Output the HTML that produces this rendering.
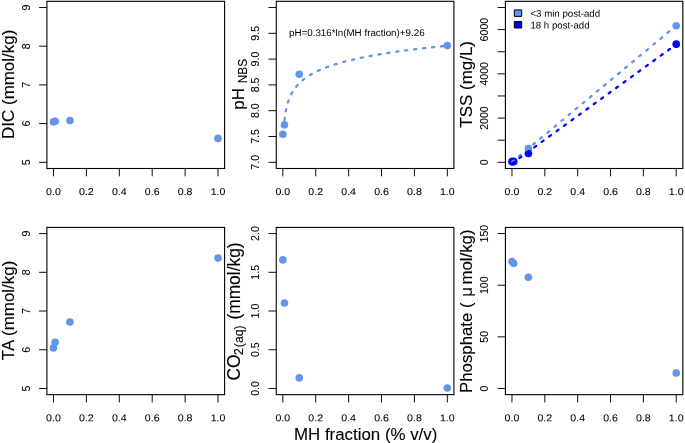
<!DOCTYPE html>
<html><head><meta charset="utf-8"><title>MH fraction plots</title>
<style>
html,body{margin:0;padding:0;background:#fff;}
svg{display:block;font-family:"Liberation Sans",sans-serif;fill:#000;}
.t{stroke:#000;stroke-width:0.08px;}
.l{stroke:#000;stroke-width:0.12px;}
</style></head>
<body>
<svg width="685" height="443" viewBox="0 0 685 443">
<rect width="685" height="443" fill="#fff"/>
<rect x="46.9" y="1.3" width="177.7" height="167.2" fill="none" stroke="#000" stroke-width="1.1"/>
<path d="M53.48 168.5v7.8M86.39 168.5v7.8M119.3 168.5v7.8M152.2 168.5v7.8M185.11 168.5v7.8M218.02 168.5v7.8M46.9 162.31h-7.8M46.9 123.6h-7.8M46.9 84.9h-7.8M46.9 46.2h-7.8M46.9 7.49h-7.8" stroke="#000" stroke-width="0.95" fill="none"/>
<text transform="translate(53.48 195.1) rotate(0.03) scale(1 0.93)" font-size="10.6" class="t" text-anchor="middle">0.0</text>
<text transform="translate(86.39 195.1) rotate(0.03) scale(1 0.93)" font-size="10.6" class="t" text-anchor="middle">0.2</text>
<text transform="translate(119.3 195.1) rotate(0.03) scale(1 0.93)" font-size="10.6" class="t" text-anchor="middle">0.4</text>
<text transform="translate(152.2 195.1) rotate(0.03) scale(1 0.93)" font-size="10.6" class="t" text-anchor="middle">0.6</text>
<text transform="translate(185.11 195.1) rotate(0.03) scale(1 0.93)" font-size="10.6" class="t" text-anchor="middle">0.8</text>
<text transform="translate(218.02 195.1) rotate(0.03) scale(1 0.93)" font-size="10.6" class="t" text-anchor="middle">1.0</text>
<text transform="translate(29.6 162.31) rotate(-90)" font-size="10.6" class="t" text-anchor="middle">5</text>
<text transform="translate(29.6 123.6) rotate(-90)" font-size="10.6" class="t" text-anchor="middle">6</text>
<text transform="translate(29.6 84.9) rotate(-90)" font-size="10.6" class="t" text-anchor="middle">7</text>
<text transform="translate(29.6 46.2) rotate(-90)" font-size="10.6" class="t" text-anchor="middle">8</text>
<text transform="translate(29.6 7.49) rotate(-90)" font-size="10.6" class="t" text-anchor="middle">9</text>
<text transform="translate(14.4 84.3) rotate(-90)" font-size="16.95" class="l" text-anchor="middle">DIC (mmol/kg)</text>
<circle cx="53.48" cy="121.86" r="3.8" fill="#6495ED"/>
<circle cx="55.13" cy="121.36" r="3.8" fill="#6495ED"/>
<circle cx="69.94" cy="120.51" r="3.8" fill="#6495ED"/>
<circle cx="218.02" cy="138.39" r="3.8" fill="#6495ED"/>
<rect x="276.25" y="1.3" width="177.65" height="167.2" fill="none" stroke="#000" stroke-width="1.1"/>
<path d="M282.83 168.5v7.8M315.73 168.5v7.8M348.63 168.5v7.8M381.52 168.5v7.8M414.42 168.5v7.8M447.32 168.5v7.8M276.25 162.31h-7.8M276.25 136.5h-7.8M276.25 110.7h-7.8M276.25 84.9h-7.8M276.25 59.1h-7.8M276.25 33.3h-7.8M276.25 7.49h-7.8" stroke="#000" stroke-width="0.95" fill="none"/>
<text transform="translate(282.83 195.1) rotate(0.03) scale(1 0.93)" font-size="10.6" class="t" text-anchor="middle">0.0</text>
<text transform="translate(315.73 195.1) rotate(0.03) scale(1 0.93)" font-size="10.6" class="t" text-anchor="middle">0.2</text>
<text transform="translate(348.63 195.1) rotate(0.03) scale(1 0.93)" font-size="10.6" class="t" text-anchor="middle">0.4</text>
<text transform="translate(381.52 195.1) rotate(0.03) scale(1 0.93)" font-size="10.6" class="t" text-anchor="middle">0.6</text>
<text transform="translate(414.42 195.1) rotate(0.03) scale(1 0.93)" font-size="10.6" class="t" text-anchor="middle">0.8</text>
<text transform="translate(447.32 195.1) rotate(0.03) scale(1 0.93)" font-size="10.6" class="t" text-anchor="middle">1.0</text>
<text transform="translate(258.95 162.31) rotate(-90)" font-size="10.6" class="t" text-anchor="middle">7.0</text>
<text transform="translate(258.95 136.5) rotate(-90)" font-size="10.6" class="t" text-anchor="middle">7.5</text>
<text transform="translate(258.95 110.7) rotate(-90)" font-size="10.6" class="t" text-anchor="middle">8.0</text>
<text transform="translate(258.95 84.9) rotate(-90)" font-size="10.6" class="t" text-anchor="middle">8.5</text>
<text transform="translate(258.95 59.1) rotate(-90)" font-size="10.6" class="t" text-anchor="middle">9.0</text>
<text transform="translate(258.95 33.3) rotate(-90)" font-size="10.6" class="t" text-anchor="middle">9.5</text>
<text transform="translate(243.75 84.3) rotate(-90)" font-size="16.95" class="l" text-anchor="middle">pH <tspan font-size="11.9" dy="3">NBS</tspan></text>
<path d="M284.47 120.78 L284.49 120.59 L284.51 120.40 L284.53 120.21 L284.55 120.03 L284.57 119.84 L284.59 119.65 L284.61 119.46 L284.63 119.28 L284.65 119.09 L284.68 118.90 L284.70 118.71 L284.72 118.52 L284.74 118.34 L284.76 118.15 L284.78 117.96 L284.81 117.77 L284.83 117.59 L284.85 117.40 L284.88 117.21 L284.90 117.02 L284.92 116.83 L284.95 116.65 L284.97 116.46 L285.00 116.27 L285.02 116.08 L285.05 115.90 L285.07 115.71 L285.10 115.52 L285.13 115.33 L285.15 115.15 L285.18 114.96 L285.21 114.77 L285.23 114.58 L285.26 114.39 L285.29 114.21 L285.32 114.02 L285.35 113.83 L285.38 113.64 L285.41 113.46 L285.44 113.27 L285.47 113.08 L285.50 112.89 L285.53 112.70 L285.56 112.52 L285.59 112.33 L285.62 112.14 L285.66 111.95 L285.69 111.77 L285.72 111.58 L285.75 111.39 L285.79 111.20 L285.82 111.01 L285.86 110.83 L285.89 110.64 L285.93 110.45 L285.96 110.26 L286.00 110.08 L286.04 109.89 L286.07 109.70 L286.11 109.51 L286.15 109.33 L286.19 109.14 L286.23 108.95 L286.27 108.76 L286.31 108.57 L286.35 108.39 L286.39 108.20 L286.43 108.01 L286.47 107.82 L286.51 107.64 L286.55 107.45 L286.60 107.26 L286.64 107.07 L286.69 106.88 L286.73 106.70 L286.78 106.51 L286.82 106.32 L286.87 106.13 L286.91 105.95 L286.96 105.76 L287.01 105.57 L287.06 105.38 L287.11 105.19 L287.16 105.01 L287.21 104.82 L287.26 104.63 L287.31 104.44 L287.36 104.26 L287.41 104.07 L287.47 103.88 L287.52 103.69 L287.57 103.51 L287.63 103.32 L287.68 103.13 L287.74 102.94 L287.80 102.75 L287.85 102.57 L287.91 102.38 L287.97 102.19 L288.03 102.00 L288.09 101.82 L288.15 101.63 L288.21 101.44 L288.28 101.25 L288.34 101.06 L288.40 100.88 L288.47 100.69 L288.53 100.50 L288.60 100.31 L288.67 100.13 L288.73 99.94 L288.80 99.75 L288.87 99.56 L288.94 99.37 L289.01 99.19 L289.08 99.00 L289.16 98.81 L289.23 98.62 L289.30 98.44 L289.38 98.25 L289.45 98.06 L289.53 97.87 L289.61 97.69 L289.69 97.50 L289.77 97.31 L289.85 97.12 L289.93 96.93 L290.01 96.75 L290.09 96.56 L290.18 96.37 L290.26 96.18 L290.35 96.00 L290.44 95.81 L290.52 95.62 L290.61 95.43 L290.70 95.24 L290.79 95.06 L290.89 94.87 L290.98 94.68 L291.07 94.49 L291.17 94.31 L291.27 94.12 L291.36 93.93 L291.46 93.74 L291.56 93.55 L291.66 93.37 L291.77 93.18 L291.87 92.99 L291.97 92.80 L292.08 92.62 L292.19 92.43 L292.30 92.24 L292.40 92.05 L292.52 91.87 L292.63 91.68 L292.74 91.49 L292.86 91.30 L292.97 91.11 L293.09 90.93 L293.21 90.74 L293.33 90.55 L293.45 90.36 L293.57 90.18 L293.70 89.99 L293.82 89.80 L293.95 89.61 L294.08 89.42 L294.21 89.24 L294.34 89.05 L294.47 88.86 L294.61 88.67 L294.75 88.49 L294.88 88.30 L295.02 88.11 L295.16 87.92 L295.31 87.73 L295.45 87.55 L295.60 87.36 L295.75 87.17 L295.90 86.98 L296.05 86.80 L296.20 86.61 L296.35 86.42 L296.51 86.23 L296.67 86.05 L296.83 85.86 L296.99 85.67 L297.16 85.48 L297.32 85.29 L297.49 85.11 L297.66 84.92 L297.83 84.73 L298.01 84.54 L298.18 84.36 L298.36 84.17 L298.54 83.98 L298.72 83.79 L298.90 83.60 L299.09 83.42 L299.28 83.23 L299.47 83.04 L299.66 82.85 L299.86 82.67 L300.05 82.48 L300.25 82.29 L300.46 82.10 L300.66 81.91 L300.87 81.73 L301.07 81.54 L301.29 81.35 L301.50 81.16 L301.72 80.98 L301.93 80.79 L302.16 80.60 L302.38 80.41 L302.61 80.22 L302.83 80.04 L303.07 79.85 L303.30 79.66 L303.54 79.47 L303.78 79.29 L304.02 79.10 L304.27 78.91 L304.51 78.72 L304.76 78.54 L305.02 78.35 L305.28 78.16 L305.54 77.97 L305.80 77.78 L306.06 77.60 L306.33 77.41 L306.61 77.22 L306.88 77.03 L307.16 76.85 L307.44 76.66 L307.73 76.47 L308.01 76.28 L308.31 76.09 L308.60 75.91 L308.90 75.72 L309.20 75.53 L309.51 75.34 L309.82 75.16 L310.13 74.97 L310.44 74.78 L310.76 74.59 L311.09 74.40 L311.41 74.22 L311.75 74.03 L312.08 73.84 L312.42 73.65 L312.76 73.47 L313.11 73.28 L313.46 73.09 L313.81 72.90 L314.17 72.72 L314.54 72.53 L314.90 72.34 L315.27 72.15 L315.65 71.96 L316.03 71.78 L316.41 71.59 L316.80 71.40 L317.20 71.21 L317.59 71.03 L318.00 70.84 L318.40 70.65 L318.82 70.46 L319.23 70.27 L319.65 70.09 L320.08 69.90 L320.51 69.71 L320.95 69.52 L321.39 69.34 L321.84 69.15 L322.29 68.96 L322.75 68.77 L323.21 68.58 L323.67 68.40 L324.15 68.21 L324.63 68.02 L325.11 67.83 L325.60 67.65 L326.10 67.46 L326.60 67.27 L327.10 67.08 L327.62 66.90 L328.13 66.71 L328.66 66.52 L329.19 66.33 L329.73 66.14 L330.27 65.96 L330.82 65.77 L331.37 65.58 L331.94 65.39 L332.51 65.21 L333.08 65.02 L333.66 64.83 L334.25 64.64 L334.85 64.45 L335.45 64.27 L336.06 64.08 L336.67 63.89 L337.30 63.70 L337.93 63.52 L338.57 63.33 L339.21 63.14 L339.86 62.95 L340.53 62.76 L341.19 62.58 L341.87 62.39 L342.55 62.20 L343.24 62.01 L343.94 61.83 L344.65 61.64 L345.37 61.45 L346.09 61.26 L346.82 61.08 L347.56 60.89 L348.31 60.70 L349.07 60.51 L349.84 60.32 L350.62 60.14 L351.40 59.95 L352.19 59.76 L353.00 59.57 L353.81 59.39 L354.63 59.20 L355.46 59.01 L356.30 58.82 L357.16 58.63 L358.02 58.45 L358.89 58.26 L359.77 58.07 L360.66 57.88 L361.56 57.70 L362.47 57.51 L363.39 57.32 L364.33 57.13 L365.27 56.94 L366.22 56.76 L367.19 56.57 L368.17 56.38 L369.16 56.19 L370.16 56.01 L371.17 55.82 L372.19 55.63 L373.22 55.44 L374.27 55.26 L375.33 55.07 L376.40 54.88 L377.48 54.69 L378.58 54.50 L379.69 54.32 L380.81 54.13 L381.95 53.94 L383.09 53.75 L384.25 53.57 L385.43 53.38 L386.62 53.19 L387.82 53.00 L389.03 52.81 L390.26 52.63 L391.51 52.44 L392.77 52.25 L394.04 52.06 L395.33 51.88 L396.63 51.69 L397.95 51.50 L399.28 51.31 L400.63 51.12 L401.99 50.94 L403.37 50.75 L404.77 50.56 L406.18 50.37 L407.61 50.19 L409.05 50.00 L410.52 49.81 L411.99 49.62 L413.49 49.44 L415.00 49.25 L416.53 49.06 L418.08 48.87 L419.65 48.68 L421.23 48.50 L422.83 48.31 L424.46 48.12 L426.10 47.93 L427.75 47.75 L429.43 47.56 L431.13 47.37 L432.85 47.18 L434.58 46.99 L436.34 46.81 L438.12 46.62 L439.92 46.43 L441.74 46.24 L443.58 46.06 L445.44 45.87 L447.32 45.68" stroke="#6495ED" stroke-dashoffset="-0.6" stroke-dasharray="2.25 6.75" stroke-linecap="round" stroke-width="2.3" fill="none"/>
<circle cx="282.83" cy="134.23" r="3.8" fill="#6495ED"/>
<circle cx="284.47" cy="124.84" r="3.8" fill="#6495ED"/>
<circle cx="299.28" cy="74.27" r="3.8" fill="#6495ED"/>
<circle cx="447.32" cy="45.58" r="3.8" fill="#6495ED"/>
<text transform="translate(289.0 36.05) rotate(0.03)" font-size="9.8">pH=0.316*ln(MH fraction)+9.26</text>
<rect x="505.4" y="1.3" width="177.4" height="167.2" fill="none" stroke="#000" stroke-width="1.1"/>
<path d="M511.97 168.5v7.8M544.82 168.5v7.8M577.67 168.5v7.8M610.53 168.5v7.8M643.38 168.5v7.8M676.23 168.5v7.8M505.4 162.31h-7.8M505.4 140.19h-7.8M505.4 118.07h-7.8M505.4 95.96h-7.8M505.4 73.84h-7.8M505.4 51.73h-7.8M505.4 29.61h-7.8M505.4 7.49h-7.8" stroke="#000" stroke-width="0.95" fill="none"/>
<text transform="translate(511.97 195.1) rotate(0.03) scale(1 0.93)" font-size="10.6" class="t" text-anchor="middle">0.0</text>
<text transform="translate(544.82 195.1) rotate(0.03) scale(1 0.93)" font-size="10.6" class="t" text-anchor="middle">0.2</text>
<text transform="translate(577.67 195.1) rotate(0.03) scale(1 0.93)" font-size="10.6" class="t" text-anchor="middle">0.4</text>
<text transform="translate(610.53 195.1) rotate(0.03) scale(1 0.93)" font-size="10.6" class="t" text-anchor="middle">0.6</text>
<text transform="translate(643.38 195.1) rotate(0.03) scale(1 0.93)" font-size="10.6" class="t" text-anchor="middle">0.8</text>
<text transform="translate(676.23 195.1) rotate(0.03) scale(1 0.93)" font-size="10.6" class="t" text-anchor="middle">1.0</text>
<text transform="translate(488.1 162.31) rotate(-90)" font-size="10.6" class="t" text-anchor="middle">0</text>
<text transform="translate(488.1 118.07) rotate(-90)" font-size="10.6" class="t" text-anchor="middle">2000</text>
<text transform="translate(488.1 73.84) rotate(-90)" font-size="10.6" class="t" text-anchor="middle">4000</text>
<text transform="translate(488.1 29.61) rotate(-90)" font-size="10.6" class="t" text-anchor="middle">6000</text>
<text transform="translate(472.4 84.3) rotate(-90)" font-size="16.95" class="l" text-anchor="middle">TSS (mg/L)</text>
<circle cx="511.97" cy="161.2" r="3.8" fill="#6495ED"/>
<circle cx="513.61" cy="160.98" r="3.8" fill="#6495ED"/>
<circle cx="528.4" cy="148.48" r="3.8" fill="#6495ED"/>
<circle cx="676.23" cy="25.69" r="3.8" fill="#6495ED"/>
<circle cx="511.97" cy="161.87" r="3.8" fill="#0000FF"/>
<circle cx="513.61" cy="161.64" r="3.8" fill="#0000FF"/>
<circle cx="528.4" cy="153.46" r="3.8" fill="#0000FF"/>
<circle cx="676.23" cy="44.16" r="3.8" fill="#0000FF"/>
<path d="M511.97 162.09L676.23 25.63" stroke="#6495ED" stroke-dasharray="2.3 6.89" stroke-linecap="round" stroke-width="2.3" fill="none"/>
<path d="M511.97 163.50L676.23 44.38" stroke="#0000FF" stroke-dasharray="2.3 6.89" stroke-linecap="round" stroke-width="2.3" fill="none"/>
<rect x="514.3" y="9.9" width="7.4" height="6.5" fill="#6495ED" stroke="#000" stroke-width="1" stroke-linejoin="round"/>
<rect x="514.3" y="21.5" width="7.4" height="6.5" fill="#0000FF" stroke="#000" stroke-width="1" stroke-linejoin="round"/>
<text transform="translate(530.4 16.8) rotate(0.03)" font-size="9.7">&lt;3 min post-add</text>
<text transform="translate(530.4 28.55) rotate(0.03)" font-size="9.7">18 h post-add</text>
<rect x="46.9" y="227.4" width="177.7" height="167.25" fill="none" stroke="#000" stroke-width="1.1"/>
<path d="M53.48 394.65v7.8M86.39 394.65v7.8M119.3 394.65v7.8M152.2 394.65v7.8M185.11 394.65v7.8M218.02 394.65v7.8M46.9 388.46h-7.8M46.9 349.74h-7.8M46.9 311.02h-7.8M46.9 272.31h-7.8M46.9 233.59h-7.8" stroke="#000" stroke-width="0.95" fill="none"/>
<text transform="translate(53.48 421.25) rotate(0.03) scale(1 0.93)" font-size="10.6" class="t" text-anchor="middle">0.0</text>
<text transform="translate(86.39 421.25) rotate(0.03) scale(1 0.93)" font-size="10.6" class="t" text-anchor="middle">0.2</text>
<text transform="translate(119.3 421.25) rotate(0.03) scale(1 0.93)" font-size="10.6" class="t" text-anchor="middle">0.4</text>
<text transform="translate(152.2 421.25) rotate(0.03) scale(1 0.93)" font-size="10.6" class="t" text-anchor="middle">0.6</text>
<text transform="translate(185.11 421.25) rotate(0.03) scale(1 0.93)" font-size="10.6" class="t" text-anchor="middle">0.8</text>
<text transform="translate(218.02 421.25) rotate(0.03) scale(1 0.93)" font-size="10.6" class="t" text-anchor="middle">1.0</text>
<text transform="translate(29.6 388.46) rotate(-90)" font-size="10.6" class="t" text-anchor="middle">5</text>
<text transform="translate(29.6 349.74) rotate(-90)" font-size="10.6" class="t" text-anchor="middle">6</text>
<text transform="translate(29.6 311.02) rotate(-90)" font-size="10.6" class="t" text-anchor="middle">7</text>
<text transform="translate(29.6 272.31) rotate(-90)" font-size="10.6" class="t" text-anchor="middle">8</text>
<text transform="translate(29.6 233.59) rotate(-90)" font-size="10.6" class="t" text-anchor="middle">9</text>
<text transform="translate(14.4 310.42) rotate(-90)" font-size="16.95" class="l" text-anchor="middle">TA (mmol/kg)</text>
<circle cx="53.48" cy="347.92" r="3.8" fill="#6495ED"/>
<circle cx="55.13" cy="342.19" r="3.8" fill="#6495ED"/>
<circle cx="69.94" cy="322.06" r="3.8" fill="#6495ED"/>
<circle cx="218.02" cy="258.06" r="3.8" fill="#6495ED"/>
<rect x="276.25" y="227.4" width="177.65" height="167.25" fill="none" stroke="#000" stroke-width="1.1"/>
<path d="M282.83 394.65v7.8M315.73 394.65v7.8M348.63 394.65v7.8M381.52 394.65v7.8M414.42 394.65v7.8M447.32 394.65v7.8M276.25 388.46h-7.8M276.25 349.74h-7.8M276.25 311.02h-7.8M276.25 272.31h-7.8M276.25 233.59h-7.8" stroke="#000" stroke-width="0.95" fill="none"/>
<text transform="translate(282.83 421.25) rotate(0.03) scale(1 0.93)" font-size="10.6" class="t" text-anchor="middle">0.0</text>
<text transform="translate(315.73 421.25) rotate(0.03) scale(1 0.93)" font-size="10.6" class="t" text-anchor="middle">0.2</text>
<text transform="translate(348.63 421.25) rotate(0.03) scale(1 0.93)" font-size="10.6" class="t" text-anchor="middle">0.4</text>
<text transform="translate(381.52 421.25) rotate(0.03) scale(1 0.93)" font-size="10.6" class="t" text-anchor="middle">0.6</text>
<text transform="translate(414.42 421.25) rotate(0.03) scale(1 0.93)" font-size="10.6" class="t" text-anchor="middle">0.8</text>
<text transform="translate(447.32 421.25) rotate(0.03) scale(1 0.93)" font-size="10.6" class="t" text-anchor="middle">1.0</text>
<text transform="translate(258.95 388.46) rotate(-90)" font-size="10.6" class="t" text-anchor="middle">0.0</text>
<text transform="translate(258.95 349.74) rotate(-90)" font-size="10.6" class="t" text-anchor="middle">0.5</text>
<text transform="translate(258.95 311.02) rotate(-90)" font-size="10.6" class="t" text-anchor="middle">1.0</text>
<text transform="translate(258.95 272.31) rotate(-90)" font-size="10.6" class="t" text-anchor="middle">1.5</text>
<text transform="translate(258.95 233.59) rotate(-90)" font-size="10.6" class="t" text-anchor="middle">2.0</text>
<text transform="translate(240.35 311.47) rotate(-90) scale(1.026 1.05)" font-size="16.95" class="l" text-anchor="middle">CO<tspan font-size="11.9" dy="2.5" dx="-0.5">2</tspan><tspan font-size="11.9" dx="1">(aq)</tspan><tspan dy="-2.5" dx="1"> (mmol/kg)</tspan></text>
<circle cx="282.83" cy="259.92" r="3.8" fill="#6495ED"/>
<circle cx="284.47" cy="303.05" r="3.8" fill="#6495ED"/>
<circle cx="299.28" cy="377.92" r="3.8" fill="#6495ED"/>
<circle cx="447.32" cy="388.07" r="3.8" fill="#6495ED"/>
<text x="365.7" y="440.2" font-size="16.88" class="l" text-anchor="middle">MH fraction (% v/v)</text>
<rect x="505.4" y="227.4" width="177.4" height="167.25" fill="none" stroke="#000" stroke-width="1.1"/>
<path d="M511.97 394.65v7.8M544.82 394.65v7.8M577.67 394.65v7.8M610.53 394.65v7.8M643.38 394.65v7.8M676.23 394.65v7.8M505.4 388.46h-7.8M505.4 336.84h-7.8M505.4 285.21h-7.8M505.4 233.59h-7.8" stroke="#000" stroke-width="0.95" fill="none"/>
<text transform="translate(511.97 421.25) rotate(0.03) scale(1 0.93)" font-size="10.6" class="t" text-anchor="middle">0.0</text>
<text transform="translate(544.82 421.25) rotate(0.03) scale(1 0.93)" font-size="10.6" class="t" text-anchor="middle">0.2</text>
<text transform="translate(577.67 421.25) rotate(0.03) scale(1 0.93)" font-size="10.6" class="t" text-anchor="middle">0.4</text>
<text transform="translate(610.53 421.25) rotate(0.03) scale(1 0.93)" font-size="10.6" class="t" text-anchor="middle">0.6</text>
<text transform="translate(643.38 421.25) rotate(0.03) scale(1 0.93)" font-size="10.6" class="t" text-anchor="middle">0.8</text>
<text transform="translate(676.23 421.25) rotate(0.03) scale(1 0.93)" font-size="10.6" class="t" text-anchor="middle">1.0</text>
<text transform="translate(488.1 388.46) rotate(-90)" font-size="10.6" class="t" text-anchor="middle">0</text>
<text transform="translate(488.1 336.84) rotate(-90)" font-size="10.6" class="t" text-anchor="middle">50</text>
<text transform="translate(488.1 285.21) rotate(-90)" font-size="10.6" class="t" text-anchor="middle">100</text>
<text transform="translate(488.1 233.59) rotate(-90)" font-size="10.6" class="t" text-anchor="middle">150</text>
<text transform="translate(472.35 311.22) rotate(-90) scale(0.992 1)" font-size="16.95" class="l" text-anchor="middle">Phosphate (<tspan dx="1" stroke-width="0"> μ</tspan><tspan dx="-2.2"> mol/kg)</tspan></text>
<circle cx="511.97" cy="261.57" r="3.8" fill="#6495ED"/>
<circle cx="513.61" cy="263.22" r="3.8" fill="#6495ED"/>
<circle cx="528.4" cy="277.27" r="3.8" fill="#6495ED"/>
<circle cx="676.23" cy="373.07" r="3.8" fill="#6495ED"/>
</svg>
</body></html>
